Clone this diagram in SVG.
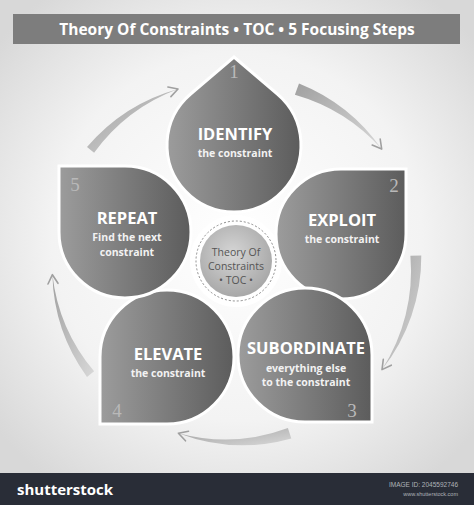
<svg xmlns="http://www.w3.org/2000/svg" width="474" height="505" viewBox="0 0 474 505">
<defs>
<radialGradient id="bg" cx="0.5" cy="0.5" r="0.65">
<stop offset="0" stop-color="#ffffff"/>
<stop offset="0.6" stop-color="#f3f3f3"/>
<stop offset="1" stop-color="#d8d8d8"/>
</radialGradient>
<linearGradient id="node" x1="0" y1="0" x2="1" y2="0">
<stop offset="0" stop-color="#9c9c9c"/>
<stop offset="1" stop-color="#5c5c5c"/>
</linearGradient>
<radialGradient id="hub" cx="0.45" cy="0.4" r="0.65">
<stop offset="0" stop-color="#d6d6d6"/>
<stop offset="1" stop-color="#a4a4a4"/>
</radialGradient>
<linearGradient id="arr" x1="0" y1="0" x2="1" y2="1">
<stop offset="0" stop-color="#a0a0a0"/>
<stop offset="1" stop-color="#d8d8d8"/>
</linearGradient>
</defs>
<style>
.node{fill:url(#node);stroke:#ffffff;stroke-width:3}
.t1{font-family:"Open Sans","Liberation Sans",sans-serif;font-weight:700;font-size:16.5px;fill:#ffffff;text-anchor:middle}
.t2{font-family:"Open Sans","Liberation Sans",sans-serif;font-weight:700;font-size:10.5px;fill:#f2f2f2;text-anchor:middle}
.num{font-family:"Liberation Serif",serif;font-size:19px;fill:#b9b9b9;text-anchor:middle}
.shaft{fill:url(#arr)}
.head{fill:none;stroke:#a0a0a0;stroke-width:1.6;stroke-linecap:round;stroke-linejoin:round}
.hubt{font-family:"Open Sans","Liberation Sans",sans-serif;font-size:10.5px;fill:#555555;text-anchor:middle}
</style>
<rect x="0" y="0" width="474" height="473" fill="url(#bg)"/>
<g id="title">
<rect x="13" y="14" width="447" height="30" fill="#7d7d7d"/>
<text x="237" y="35" font-family="'Open Sans','Liberation Sans',sans-serif" font-weight="700" font-size="15.5" fill="#ffffff" text-anchor="middle">Theory Of Constraints • TOC • 5 Focusing Steps</text>
</g>
<g id="connectors">
<path class="shaft" d="M87 147.1 A184 184 0 0 1 178 89 A184 184 0 0 0 94.1 152.7 Z"/>
<polyline class="head" points="167.9,87 178,89 170.9,96.6"/>
<path class="shaft" d="M299 83.4 A184 184 0 0 1 381.7 149.1 A184 184 0 0 0 294.9 94.7 Z"/>
<polyline class="head" points="380.2,139 381.7,149.1 372.2,145.1"/>
<path class="shaft" d="M421.3 255.5 A182 182 0 0 1 382 369.6 A182 182 0 0 0 410.4 255.8 Z"/>
<polyline class="head" points="391.3,365.2 382,369.6 383.3,359.4"/>
<path class="shaft" d="M291.3 438.4 A180 180 0 0 1 178.4 433.2 A180 180 0 0 0 287.9 428 Z"/>
<polyline class="head" points="185.5,440.8 178.4,433.2 188.5,431.2"/>
<path class="shaft" d="M87 376.9 A182 182 0 0 1 52.4 274.7 A182 182 0 0 0 94.1 371.3 Z"/>
<polyline class="head" points="48,284 52.4,274.7 58,283.3"/>
</g>
<g id="hub">
<circle cx="236" cy="261" r="46" fill="#ffffff"/>
<circle cx="236" cy="261" r="36" fill="url(#hub)"/>
<circle cx="236" cy="261" r="40" fill="none" stroke="#8a8a8a" stroke-width="1" stroke-dasharray="2 2"/>
<text class="hubt" x="236" y="256">Theory Of</text>
<text class="hubt" x="236" y="270">Constraints</text>
<text class="hubt" x="236" y="284">• TOC •</text>
</g>
<g id="identify">
<path class="node" d="M234 57 L277.4 94 A67 67 0 1 1 190.6 94 Z"/>
<text class="num" x="234" y="78">1</text>
<text class="t1" x="235" y="140">IDENTIFY</text>
<text class="t2" x="235" y="157">the constraint</text>
</g>
<g id="exploit">
<path class="node" d="M341 169 L406 169 L406 234 A65 65 0 1 1 341 169 Z"/>
<text class="num" x="394" y="192">2</text>
<text class="t1" x="342" y="226">EXPLOIT</text>
<text class="t2" x="342" y="243">the constraint</text>
</g>
<g id="subordinate">
<path class="node" d="M372 355 L372 422 L305 422 A67 67 0 1 1 372 355 Z"/>
<text class="num" x="352" y="417">3</text>
<text class="t1" x="306" y="354">SUBORDINATE</text>
<text class="t2" x="306" y="372">everything else</text>
<text class="t2" x="306" y="386">to the constraint</text>
</g>
<g id="elevate">
<path class="node" d="M167 424 L100 424 L100 357 A67 67 0 1 1 167 424 Z"/>
<text class="num" x="117" y="417">4</text>
<text class="t1" x="168" y="360">ELEVATE</text>
<text class="t2" x="168" y="377">the constraint</text>
</g>
<g id="repeat">
<path class="node" d="M59 232 L59 166 L125 166 A66 66 0 1 1 59 232 Z"/>
<text class="num" x="75" y="191">5</text>
<text class="t1" x="127" y="224">REPEAT</text>
<text class="t2" x="127" y="241">Find the next</text>
<text class="t2" x="127" y="256">constraint</text>
</g>
<g id="footer">
<rect x="0" y="473" width="474" height="32" fill="#292d37"/>
<text x="17" y="495" font-family="'Open Sans','Liberation Sans',sans-serif" font-weight="700" font-size="15" fill="#ffffff">shutterstock</text>
<text x="458" y="487" font-family="'Liberation Sans',sans-serif" font-size="6.5" fill="#b0b3b8" text-anchor="end">IMAGE ID: 2045592746</text>
<text x="458" y="496" font-family="'Liberation Sans',sans-serif" font-size="5.5" fill="#b0b3b8" text-anchor="end">www.shutterstock.com</text>
</g>
</svg>
